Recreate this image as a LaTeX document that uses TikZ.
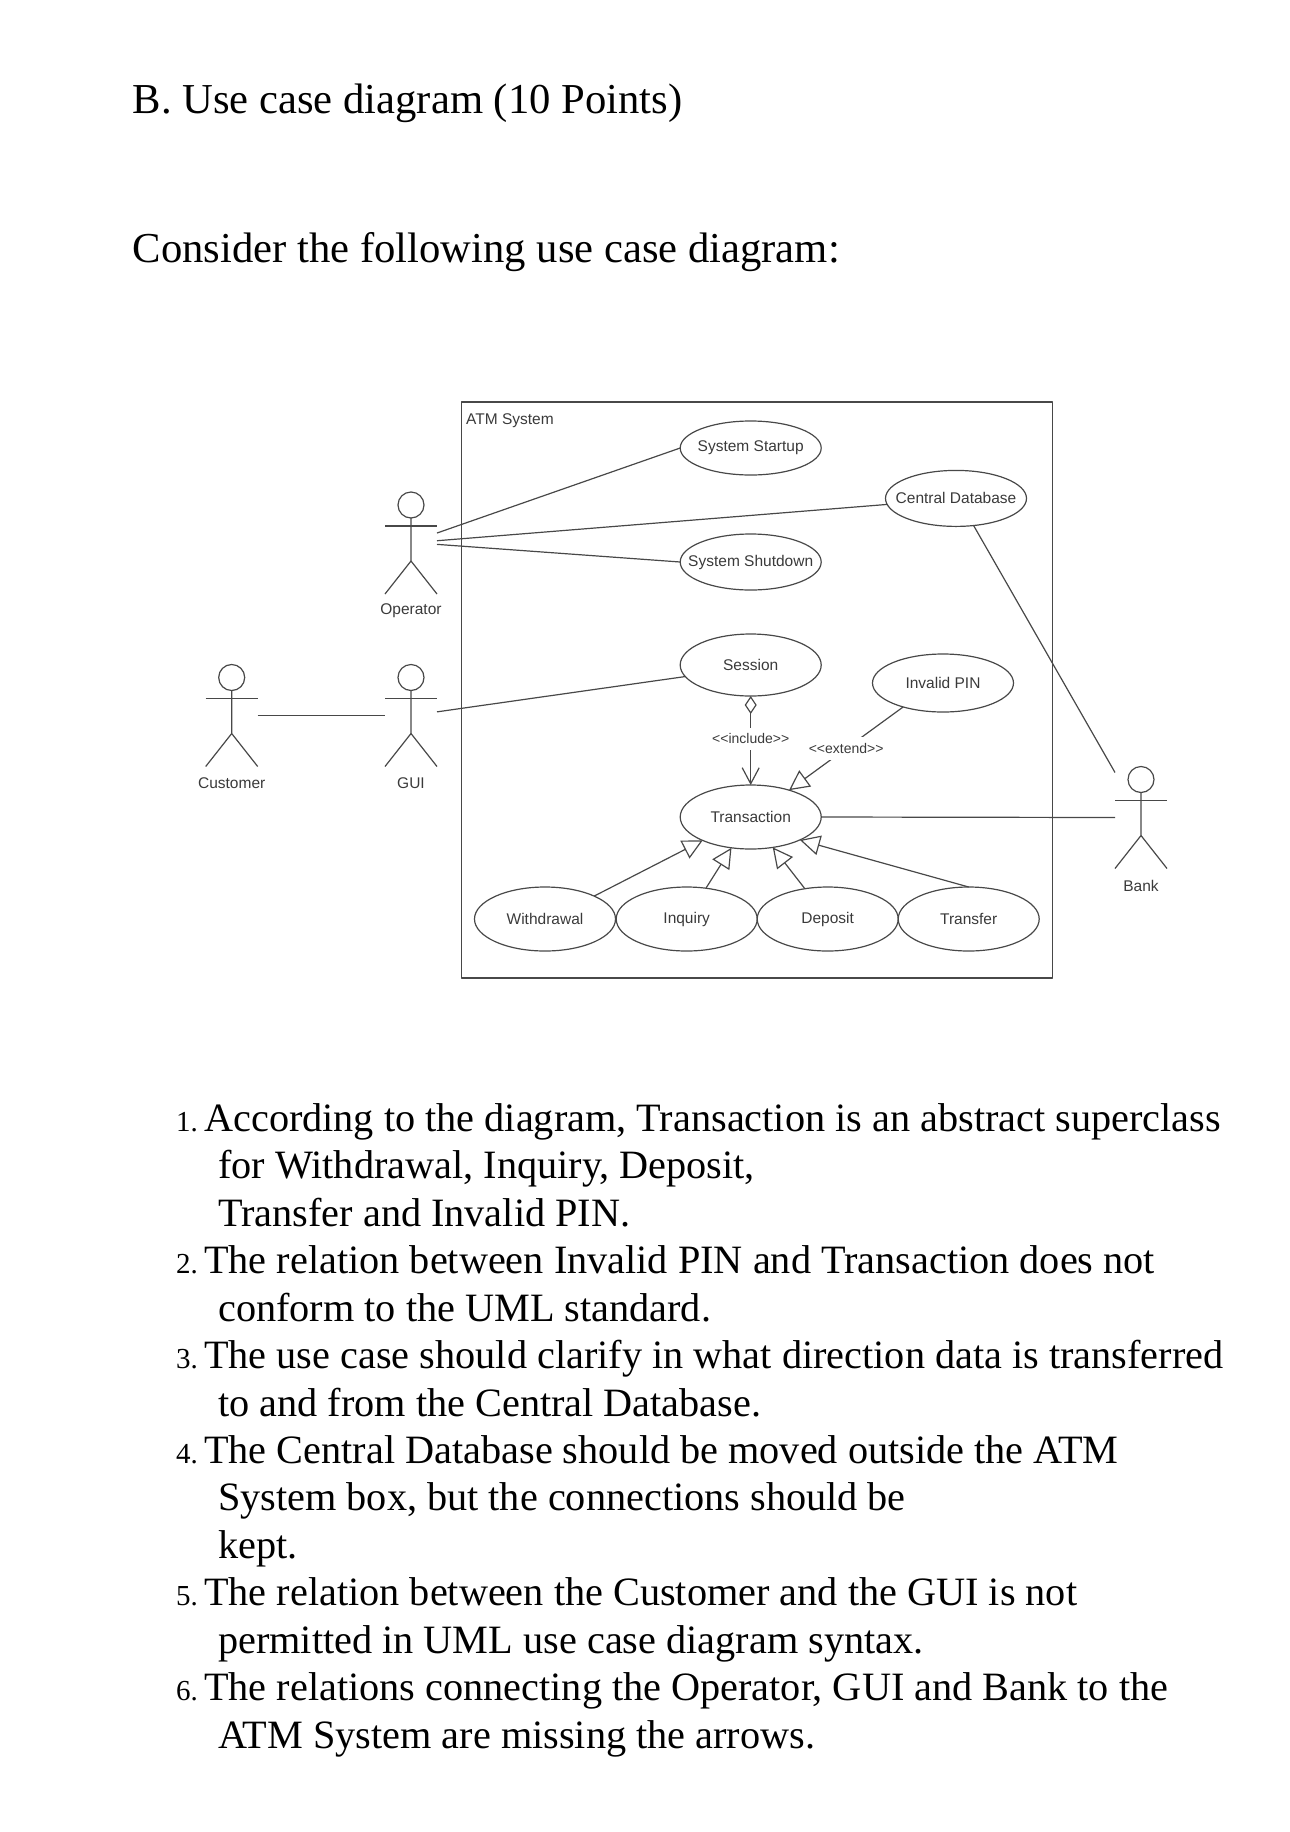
\documentclass[tikz,border=0pt]{standalone}
\usepackage{fontspec}
\setmainfont{Liberation Serif}
\newfontfamily\umlfont{Liberation Sans}
\usetikzlibrary{arrows.meta}
\usetikzlibrary{shapes.geometric}
\definecolor{umlline}{HTML}{484848}
\definecolor{umltext}{HTML}{3A3A3A}
\tikzset{
  usecase/.style={ellipse,draw=umlline,line width=1.2pt,minimum width=141,inner xsep=-25pt,inner ysep=0pt,outer sep=0pt,text=umltext,font=\umlfont\fontsize{15.5}{18}\selectfont},
  actorbox/.style={rectangle,minimum width=52,minimum height=102,inner sep=0pt,outer sep=0pt},
  actorlab/.style={text=umltext,inner sep=0pt,font=\umlfont\fontsize{15.5}{18}\selectfont},
  stereo/.style={fill=white,text=umltext,inner xsep=1pt,inner ysep=6pt,font=\umlfont\fontsize{14}{16}\selectfont},
  assoc/.style={draw=umlline,line width=1.2pt},
  head/.style={font=\fontsize{42.65}{48}\selectfont,anchor=base west,inner sep=0pt},
  item/.style={font=\fontsize{40.25}{48}\selectfont,anchor=base west,inner sep=0pt},
  itemnum/.style={font=\fontsize{29}{48}\selectfont,anchor=base west,inner sep=0pt}
}
\begin{document}
\begin{tikzpicture}[x=1pt,y=-1pt,line cap=butt,line join=round]
      \useasboundingbox (0,0) rectangle (1290,1832);
      \node[head] (title) at (132.5,113) {B. Use case diagram (10 Points)};
      \node[head] (intro) at (132.5,262.5) {Consider the following use case diagram:};
      % system box
      \node[draw=umlline,line width=1.3pt,minimum width=591,minimum height=576,inner sep=0pt,outer sep=0pt] (atm) at (757,690) {};
      \node[anchor=north west,text=umltext,inner sep=0pt,font=\umlfont\fontsize{15.5}{18}\selectfont] (atmlab) at (466,413) {ATM System};
      % use cases
      \foreach \nm/\ax/\ay/\eh/\lab in {start/750.7/448/54/System Startup,
        shut/750.7/562/56/System Shutdown,sess/750.7/665/62/Session,
        cdb/956/498.4/56/Central Database,pin/943/683/58/Invalid PIN,
        trans/750.7/817/64/Transaction,withd/545/919/64/Withdrawal,
        inq/686.7/919/64/Inquiry,depo/827.7/919/64/Deposit,transf/968.7/919/64/Transfer}
      \node[usecase,minimum height=\eh] (\nm) at (\ax,\ay) {\lab};
      % actors
      \foreach \nm/\ax/\ay/\lab in {opr/411/505/Operator,gui/411/677.5/GUI,
        cust/231.7/677.5/Customer,bank/1141/779.5/Bank}{
      \node[actorbox] (\nm) at (\ax,\ay+38) {};
      \draw[assoc,shift={(\ax,\ay)}] (0,0) circle (13pt);
      \draw[assoc,shift={(\ax,\ay)}] (-26,21) -- (26,21);
      \draw[assoc,shift={(\ax,\ay)}] (0,13) -- (0,56) (-26,89) -- (0,56) -- (26,89);
      \node[actorlab] (\nm lab) at (\ax,\ay+106) {\lab};
      }
      % associations
      \draw[assoc] (opr.21) -- (start.west);
      \draw[assoc] (opr.5) -- (cdb.185);
      \draw[assoc] (opr.-3) -- (shut.west);
      \draw[assoc] (gui.8) -- (sess.190);
      \draw[assoc] (cust.east) -- (gui.west);
      \draw[assoc] (trans.east) -- (bank.west);
      \draw[assoc] (cdb.303) -- (bank.120);
      % include and extend
      \draw[assoc,{Diamond[open,length=18pt,width=12pt]}-{Straight Barb[length=16pt,width=17pt]}] (sess.south) -- node[stereo,pos=.48] (incl) {<<include>>} (trans.north);
      \draw[assoc,-{Triangle[open,length=20pt,width=20pt]}] (pin.211) -- node[stereo] (ext) {<<extend>>} (trans.35.5);
      % generalisation
      \foreach \kid/\ka/\ta in {withd/25.6/206,inq/58.7/238.4,depo/127.7/306.9,transf/90/335.6}
      \draw[assoc,-{Triangle[open,length=20pt,width=20pt]}] (\kid.\ka) -- (trans.\ta);
      % list of statements
      \foreach \n/\lx/\lab in {1/204/{According to the diagram, Transaction is an abstract superclass},
        2/218/{for Withdrawal, Inquiry, Deposit,},
        3/218/{Transfer and Invalid PIN.},
        4/204/{The relation between Invalid PIN and Transaction does not},
        5/218/{conform to the UML standard.},
        6/204/{The use case should clarify in what direction data is transferred},
        7/218/{to and from the Central Database.},
        8/204/{The Central Database should be moved outside the ATM},
        9/218/{System box, but the connections should be},
        10/218/{kept.},
        11/204/{The relation between the Customer and the GUI is not},
        12/218/{permitted in UML use case diagram syntax.},
        13/204/{The relations connecting the Operator, GUI and Bank to the},
        14/218/{ATM System are missing the arrows.}}
      \node[item] (line\n) at (\lx,1131.3+47.46*\n-47.46) {\lab};
      \foreach \n/\ly in {1/1131.3,2/1273.7,3/1368.6,4/1463.5,5/1605.9,6/1700.8}
      \node[itemnum] (num\n) at (176,\ly) {\n.};
    \end{tikzpicture}
\end{document}
